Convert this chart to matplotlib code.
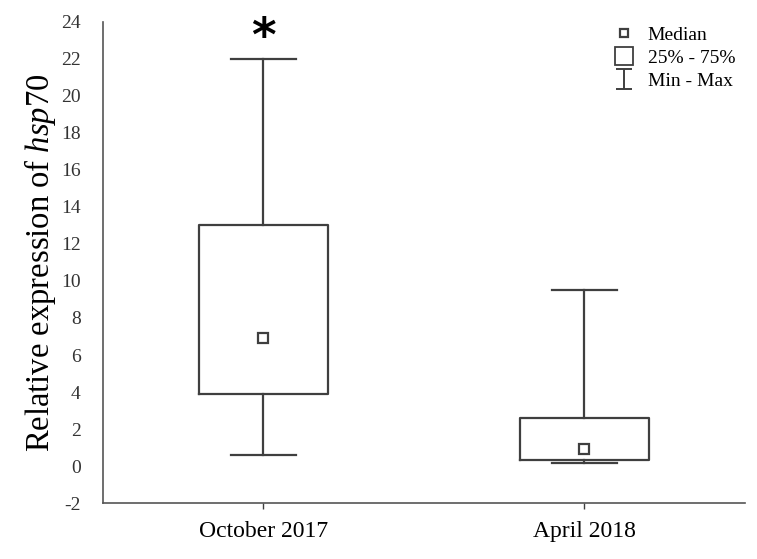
import matplotlib.pyplot as plt
from matplotlib.lines import Line2D
from matplotlib.path import Path

plt.rcParams['font.family'] = ['Liberation Serif', 'DejaVu Serif']
plt.rcParams['mathtext.fontset'] = 'custom'
plt.rcParams['mathtext.rm'] = 'Liberation Serif'
plt.rcParams['mathtext.it'] = 'Liberation Serif:italic'
plt.rcParams['axes.unicode_minus'] = False

groups = ['October 2017', 'April 2018']
q1 = [3.9, 0.35]
q3 = [13.0, 2.6]
medians = [6.9, 0.9]
mins = [0.6, 0.15]
maxs = [22.0, 9.5]

color = '#3f3f3f'

fig = plt.figure(figsize=(7.57, 5.59), dpi=100)
ax = fig.add_axes([0.136, 0.10, 0.848, 0.861])

stats = []
for i in range(len(groups)):
    stats.append({'label': groups[i], 'q1': q1[i], 'q3': q3[i], 'med': medians[i],
                  'whislo': mins[i], 'whishi': maxs[i], 'fliers': []})

pos = [1, 2]
ax.bxp(stats, positions=pos, widths=0.4, capwidths=0.2, showfliers=False,
       boxprops=dict(color=color, linewidth=1.6),
       whiskerprops=dict(color=color, linewidth=1.6),
       capprops=dict(color=color, linewidth=1.6),
       medianprops=dict(linewidth=0))
ax.plot(pos, medians, 's', ms=7, mfc='white', mec=color, mew=1.6, zorder=3)

# significance mark
ax.text(1, 23.1, '*', ha='center', va='center', fontsize=34, fontweight='bold',
        family='DejaVu Sans', color='black')

ax.set_xlim(0.5, 2.5)
ax.set_ylim(-2, 24)
ax.set_yticks(range(-2, 25, 2))
ax.tick_params(axis='y', length=0, labelsize=14, colors='#333333', pad=16)
ax.tick_params(axis='x', length=4, width=1, color=color, labelsize=17, pad=9)
ax.set_xticks(pos)
ax.set_xticklabels(groups)
for s in ['top', 'right']:
    ax.spines[s].set_visible(False)
for s in ['left', 'bottom']:
    ax.spines[s].set_color('#555555')
    ax.spines[s].set_linewidth(1.2)

ax.set_ylabel('Relative expression of $\\it{hsp70}$', fontsize=23.5, labelpad=2)

ishape = Path([(-0.8, 1), (0.8, 1), (0, 1), (0, -1), (-0.8, -1), (0.8, -1)],
              [Path.MOVETO, Path.LINETO, Path.MOVETO, Path.LINETO, Path.MOVETO, Path.LINETO])
handles = [
    Line2D([], [], ls='none', marker='s', ms=5.5, mfc='white', mec=color, mew=1.6),
    Line2D([], [], ls='none', marker='s', ms=13, mfc='white', mec=color, mew=1.3),
    Line2D([], [], ls='none', marker=ishape, ms=14, mec=color, mew=1.4),
]
ax.legend(handles, ['Median', '25% - 75%', 'Min - Max'], loc='upper right',
          bbox_to_anchor=(1.003, 1.015), frameon=False, fontsize=14,
          handletextpad=0.45, labelspacing=0.28, borderaxespad=0.2, handlelength=1.5)

fig.savefig('out.png', dpi=100)
